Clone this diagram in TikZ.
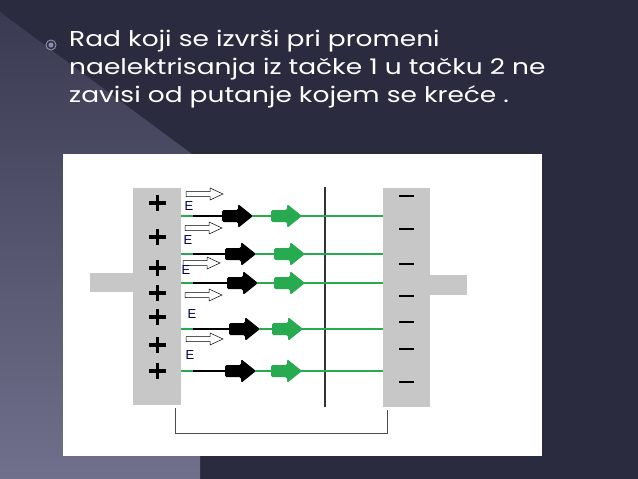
\documentclass[tikz,border=0pt]{standalone}
\usepackage{fontspec}
\setmainfont{Poppins}
\setsansfont{Liberation Sans}
\begin{document}
\begin{tikzpicture}[x=1pt,y=-1pt,
  fat/.pic={\fill[rounded corners=1.5pt] (-15,-6)--(1,-6)--(1,-12)--(16,0)--(1,12)--(1,6)--(-15,6)--cycle;},
  hol/.pic={\draw[fill=white,line width=0.5pt] (0,-2.5)--(24,-2.5)--(24,-6)--(37,0)--(24,6)--(24,2.5)--(0,2.5)--cycle;},
  plate/.style={fill=black!22},
  elab/.style={text=blue!35!black,font=\sffamily\fontsize{13}{13}\selectfont,inner sep=0}]
\useasboundingbox (0,0) rectangle (638,479);
\fill[color={rgb,255:red,43;green,43;blue,64}] (0,0) rectangle (638,479);
\shade[top color={rgb,255:red,58;green,58;blue,82},bottom color={rgb,255:red,112;green,112;blue,140}] (0,12)--(200,160)--(200,479)--(0,479)--cycle;
\fill[white] (63,154) rectangle (542,456);
% text
\draw[color={rgb,255:red,140;green,140;blue,170},line width=1pt] (51,45) circle (5);
\fill[color={rgb,255:red,140;green,140;blue,170}] (51,45) circle (2.6);
\node[anchor=north west,align=left,text=white,font=\fontsize{21.5}{28}\selectfont,inner sep=0,xscale=1.23,transform shape] (t) at (69,30)
 {Rad koji se izvrši pri promeni\\naelektrisanja iz tačke 1 u tačku 2 ne\\zavisi od putanje kojem se kreće .};
% plates
\fill[plate] (133,188) rectangle (181,405);
\fill[plate] (90,273) rectangle (133,292);
\fill[plate] (383,188) rectangle (430,407);
\fill[plate] (430,275) rectangle (467,295);
\draw[line width=1.2pt,black!80] (325,187)--(325,407);
\draw[black!70,line width=0.6pt] (175,408)--(175,433)--(387,433)--(387,410);
% lines and arrows
\foreach \y/\bx/\gx in {216/237/286,254/240/289,283/242/289,329/244/287,371/240/286}{
  \draw[color={rgb,255:red,40;green,170;blue,80},line width=1.3pt] (181,\y)--(383,\y);
  \draw[line width=1.3pt] (193,\y)--(\bx,\y);
  \fill[black] pic at (\bx,\y) {fat};
  \fill[color={rgb,255:red,40;green,170;blue,80}] pic at (\gx,\y) {fat};
}
\foreach \y in {203,237,268,293,317,345,371}{
  \fill (149,\y-1.8) rectangle (166,\y+1.8);
  \fill (155.7,\y-8) rectangle (159.3,\y+8);}
\foreach \y in {196,229,264,296,322,349,382}
  \fill (399,\y-1.2) rectangle (414,\y+1.2);
\foreach \x/\y in {186/194,185/228,183/263,185/295,186/339}
  \pic at (\x,\y) {hol};
\foreach \x/\y in {189/206,188/240,186/270,192/314,190/355}
  \node[elab] at (\x,\y) {E};
\end{tikzpicture}
\end{document}
